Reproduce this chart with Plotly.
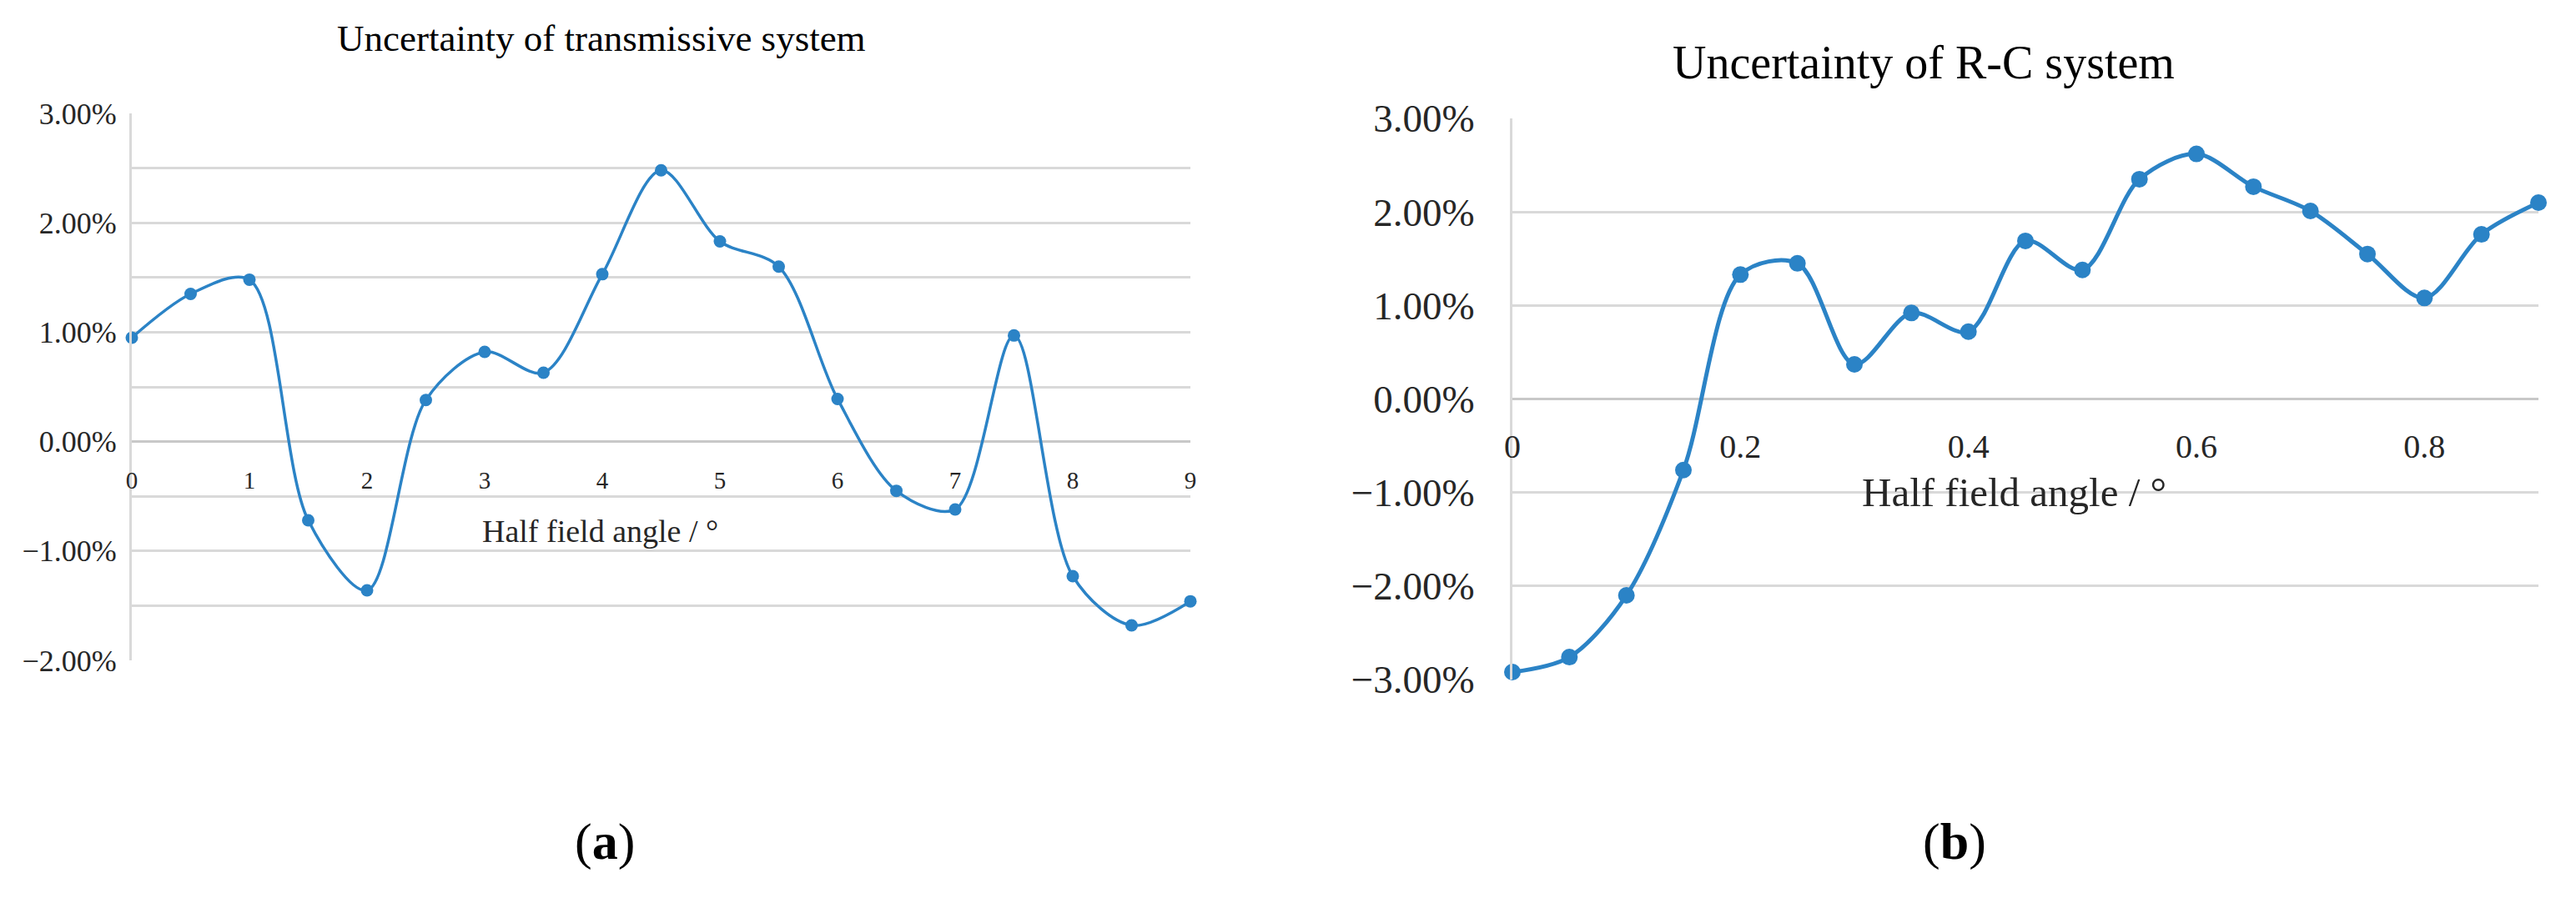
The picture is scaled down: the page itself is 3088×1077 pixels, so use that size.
import plotly.graph_objects as go

# (a) transmissive system
angle_a = [0, 0.5, 1, 1.5, 2, 2.5, 3, 3.5, 4, 4.5, 5, 5.5, 6, 6.5, 7, 7.5, 8, 8.5, 9]
unc_a = [0.0095, 0.0135, 0.0148, -0.0072, -0.0136, 0.0038, 0.0082, 0.0063, 0.0153,
         0.0248, 0.0183, 0.0160, 0.0039, -0.0045, -0.0062, 0.0097, -0.0123, -0.0168, -0.0146]

# (b) R-C system
angle_b = [0, 0.05, 0.1, 0.15, 0.2, 0.25, 0.3, 0.35, 0.4, 0.45, 0.5, 0.55, 0.6, 0.65,
           0.7, 0.75, 0.8, 0.85, 0.9]
unc_b = [-0.0292, -0.0276, -0.0210, -0.0076, 0.0133, 0.0145, 0.0037, 0.0092, 0.0072, 0.0169,
         0.0138, 0.0235, 0.0262, 0.0227, 0.0201, 0.0155, 0.0108, 0.0176, 0.0210]

# page body has an 8px margin, so the figure is drawn 8px in from the corner
PAD = 8
W, H = 3088 - 2 * PAD, 1077 - 2 * PAD
blue = '#2b83c6'
grid = '#d9d9d9'
font = 'Liberation Serif'
txt = '#262626'

def px(x):
    return (x - PAD) / W

def py(y):
    return (H - (y - PAD)) / H

fig = go.Figure()

fig.add_trace(go.Scatter(
    x=angle_a, y=unc_a, mode='lines+markers',
    line=dict(color=blue, width=3.5, shape='spline', smoothing=0.9),
    marker=dict(color=blue, size=15),
    cliponaxis=False, showlegend=False,
    xaxis='x', yaxis='y'))

fig.add_trace(go.Scatter(
    x=angle_b, y=unc_b, mode='lines+markers',
    line=dict(color=blue, width=5, shape='spline', smoothing=0.9),
    marker=dict(color=blue, size=20),
    cliponaxis=False, showlegend=False,
    xaxis='x2', yaxis='y2'))

fig.update_layout(
    width=W, height=H,
    margin=dict(l=0, r=0, t=0, b=0, autoexpand=False),
    plot_bgcolor='white', paper_bgcolor='white',
    font=dict(family=font, color=txt),
    xaxis=dict(domain=[px(158), px(1427)], range=[0, 9], dtick=1,
               anchor='free', position=py(530), automargin=False,
               showgrid=False, zeroline=False, showline=False,
               ticks='outside', ticklen=20, tickcolor='rgba(0,0,0,0)',
               tickfont=dict(size=29, family=font, color=txt)),
    yaxis=dict(domain=[py(792), py(136)], range=[-0.02, 0.03], dtick=0.01,
               tickformat='.2%', anchor='x', automargin=False,
               showgrid=True, gridcolor=grid, gridwidth=3,
               zeroline=True, zerolinecolor='#c8c8c8', zerolinewidth=3,
               showline=True, linecolor=grid, linewidth=3,
               minor=dict(dtick=0.005, showgrid=True, gridcolor=grid, gridwidth=3),
               ticks='outside', ticklen=8, tickcolor='rgba(0,0,0,0)',
               tickfont=dict(size=36, family=font, color=txt)),
    xaxis2=dict(domain=[px(1813), px(3043)], range=[0, 0.9], dtick=0.2,
                anchor='free', position=py(478), automargin=False,
                showgrid=False, zeroline=False, showline=False,
                ticks='outside', ticklen=22, tickcolor='rgba(0,0,0,0)',
                tickfont=dict(size=40, family=font, color=txt)),
    yaxis2=dict(domain=[py(815), py(142)], range=[-0.03, 0.03], dtick=0.01,
                tickformat='.2%', anchor='x2', automargin=False,
                showgrid=True, gridcolor=grid, gridwidth=3,
                zeroline=True, zerolinecolor='#c8c8c8', zerolinewidth=3,
                showline=True, linecolor=grid, linewidth=3,
                ticks='outside', ticklen=33, tickcolor='rgba(0,0,0,0)',
                tickfont=dict(size=47, family=font, color=txt)),
)

labels = [
    ('Uncertainty of transmissive system', 721, 46, 45, 'black'),
    ('Uncertainty of R-C system', 2306, 75, 56, 'black'),
    ('Half field angle / °', 719, 637, 38, txt),
    ('Half field angle / °', 2414, 590, 49, txt),
    ('(<b>a</b>)', 725, 1009, 62, 'black'),
    ('(<b>b</b>)', 2343, 1009, 62, 'black'),
]
for text, x, y, size, color in labels:
    fig.add_annotation(text=text, x=px(x), y=py(y), xref='paper', yref='paper',
                       xanchor='center', yanchor='middle', showarrow=False,
                       font=dict(size=size, family=font, color=color))

fig.write_html("out.html")
